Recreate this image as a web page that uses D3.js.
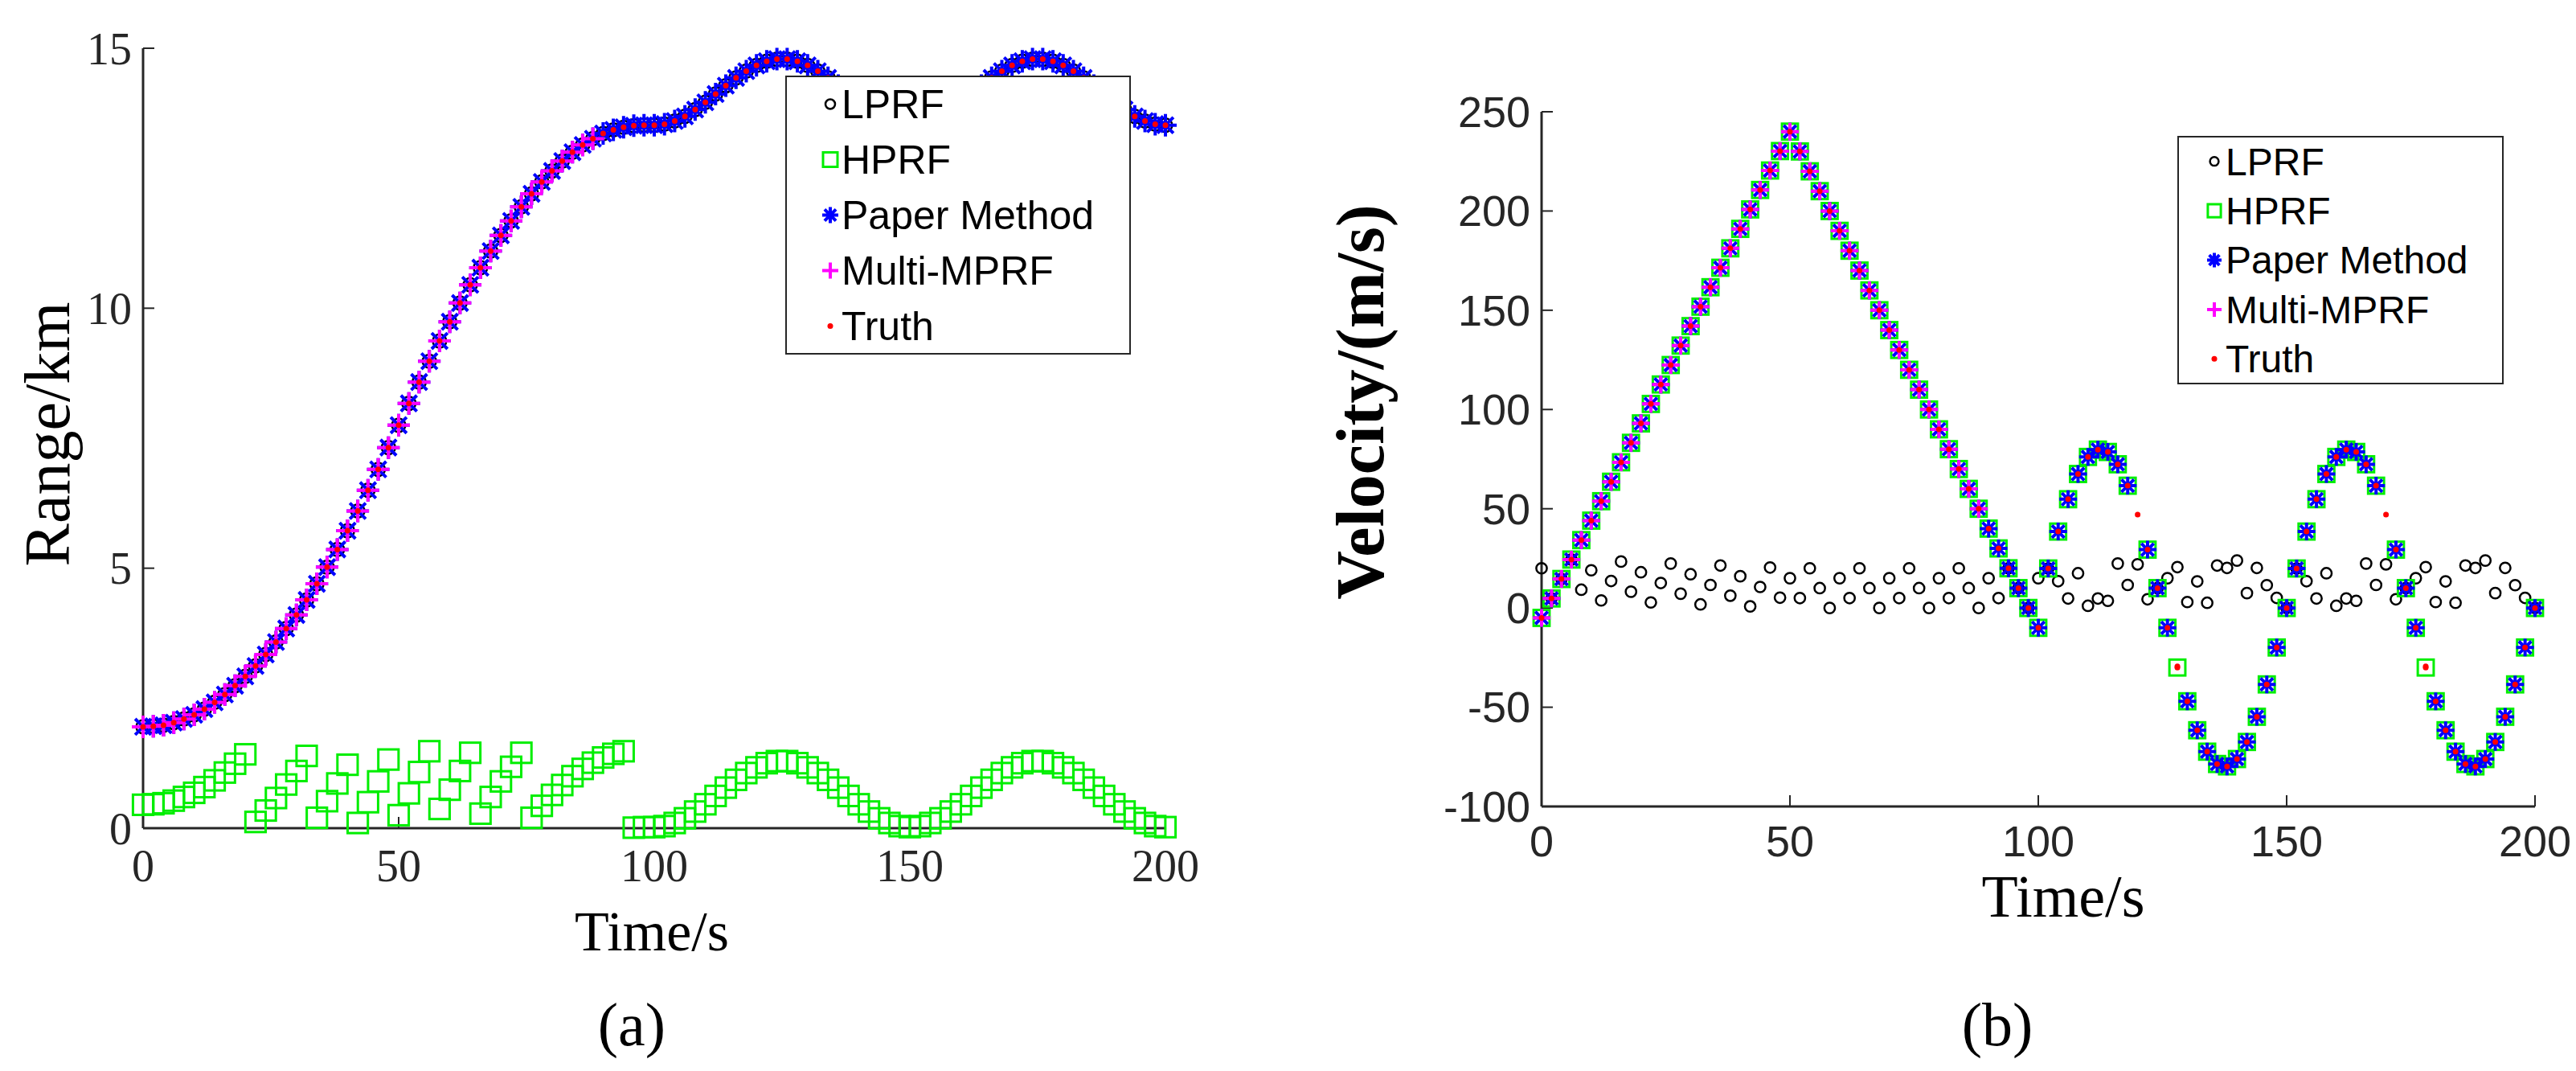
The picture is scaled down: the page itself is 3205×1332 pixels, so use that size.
<!DOCTYPE html>
<html>
<head>
<meta charset="utf-8">
<script src="https://cdn.jsdelivr.net/npm/d3@7/dist/d3.min.js"></script>
<style>
  body { margin: 0; background: #fff; }
  svg { display: block; }
</style>
</head>
<body>
<svg id="chart" width="3205" height="1332"></svg>
<script>
// time samples every 2 s
const times = d3.range(0, 201, 2);

// (a) range, km
const rangeTruth = [1.95, 1.96, 1.98, 2.03, 2.1, 2.18, 2.29, 2.42, 2.57, 2.74, 2.92, 3.12, 3.34, 3.58, 3.84, 4.1, 4.39, 4.7, 5.02, 5.36, 5.72, 6.1, 6.5, 6.9, 7.32, 7.75,
  8.17, 8.58, 8.98, 9.37, 9.74, 10.1, 10.45, 10.78, 11.1, 11.4, 11.68, 11.95, 12.2, 12.43, 12.64, 12.83, 13.0, 13.14, 13.26, 13.36, 13.43, 13.48, 13.51, 13.52, 13.52,
  13.54, 13.6, 13.69, 13.82, 13.96, 14.12, 14.28, 14.43, 14.56, 14.67, 14.75, 14.79, 14.79, 14.75, 14.67, 14.56, 14.43, 14.28, 14.12, 13.96, 13.82, 13.69, 13.6, 13.54, 13.52,
  13.54, 13.6, 13.69, 13.82, 13.96, 14.12, 14.28, 14.43, 14.56, 14.67, 14.75, 14.79, 14.79, 14.75, 14.67, 14.56, 14.43, 14.28, 14.12, 13.96, 13.82, 13.69, 13.6, 13.54, 13.52];
const rangeHprf = [0.45, 0.46, 0.48, 0.53, 0.6, 0.68, 0.79, 0.92, 1.07, 1.24, 1.42, 0.12, 0.34, 0.58, 0.84, 1.1, 1.39, 0.2, 0.52, 0.86, 1.22, 0.1, 0.5, 0.9, 1.32, 0.25,
  0.67, 1.08, 1.48, 0.37, 0.74, 1.1, 1.45, 0.28, 0.6, 0.9, 1.18, 1.45, 0.2, 0.43, 0.64, 0.83, 1.0, 1.14, 1.26, 1.36, 1.43, 1.48, 0.01, 0.02, 0.02,
  0.04, 0.1, 0.19, 0.32, 0.46, 0.62, 0.78, 0.93, 1.06, 1.17, 1.25, 1.29, 1.29, 1.25, 1.17, 1.06, 0.93, 0.78, 0.62, 0.46, 0.32, 0.19, 0.1, 0.04, 0.02,
  0.04, 0.1, 0.19, 0.32, 0.46, 0.62, 0.78, 0.93, 1.06, 1.17, 1.25, 1.29, 1.29, 1.25, 1.17, 1.06, 0.93, 0.78, 0.62, 0.46, 0.32, 0.19, 0.1, 0.04, 0.02];
const rangeMultiEnd = 88;   // Multi-MPRF plotted up to this time

// (b) velocity, m/s
const velTruth = [-5, 4.8, 14.6, 24.4, 34.2, 44, 53.8, 63.6, 73.4, 83.2, 93, 102.8, 112.6, 122.4, 132.2, 142, 151.8, 161.6, 171.4, 181.2, 191, 200.8, 210.6, 220.4, 230.2, 240,
  230, 220, 210, 200, 190, 180, 170, 160, 150, 140, 130, 120, 110, 100, 90, 80, 70, 60, 50, 40, 30, 20, 10, 0, -10,
  19.9, 38.5, 54.8, 67.5, 76.1, 79.8, 78.6, 72.4, 61.6, 47.0, 29.4, 10.0, -10.0, -29.4, -47.0, -61.6, -72.4, -78.6, -79.8, -76.1, -67.5, -54.8, -38.5, -19.9, 0,
  19.9, 38.5, 54.8, 67.5, 76.1, 79.8, 78.6, 72.4, 61.6, 47.0, 29.4, 10.0, -10.0, -29.4, -47.0, -61.6, -72.4, -78.6, -79.8, -76.1, -67.5, -54.8, -38.5, -19.9, 0];
const velLprf = [20, 4.8, 14.6, 24.4, 9.2, 19, 3.8, 13.6, 23.4, 8.2, 18, 2.8, 12.6, 22.4, 7.2, 17, 1.8, 11.6, 21.4, 6.2, 16, 0.8, 10.6, 20.4, 5.2, 15,
  5, 20, 10, 0, 15, 5, 20, 10, 0, 15, 5, 20, 10, 0, 15, 5, 20, 10, 0, 15, 5, 20, 10, 0, 15,
  19.9, 13.5, 4.8, 17.5, 1.1, 4.8, 3.6, 22.4, 11.6, 22, 4.4, 10, 15, 20.6, 3, 13.4, 2.6, 21.4, 20.2, 23.9, 7.5, 20.2, 11.5, 5.1, 0,
  19.9, 13.5, 4.8, 17.5, 1.1, 4.8, 3.6, 22.4, 11.6, 22, 4.4, 10, 15, 20.6, 3, 13.4, 2.6, 21.4, 20.2, 23.9, 7.5, 20.2, 11.5, 5.1, 0];
const velGapTimes = [120, 170];          // only truth shown
const velHprfOutliers = [[128, -30], [178, -30]];
const velMultiEnd = 88;

const xTicks = [0, 50, 100, 150, 200];
const rangeTicks = [0, 5, 10, 15];
const velTicks = [-100, -50, 0, 50, 100, 150, 200, 250];
const legendNames = ["LPRF", "HPRF", "Paper Method", "Multi-MPRF", "Truth"];

const svg = d3.select("#chart");
const axisColor = "#262626";

function starPath(s) {
  const a = s / 2, b = a * 0.707;
  return `M${-a},0L${a},0M0,${-a}L0,${a}M${-b},${-b}L${b},${b}M${-b},${b}L${b},${-b}`;
}
function plusPath(s) {
  const a = s / 2;
  return `M${-a},0L${a},0M0,${-a}L0,${a}`;
}

function drawMarker(g, kind, x, y, size) {
  switch (kind) {
    case "LPRF":
      g.append("circle").attr("cx", x).attr("cy", y).attr("r", size * 0.3)
        .attr("fill", "none").attr("stroke", "#000").attr("stroke-width", 2.5);
      break;
    case "HPRF":
      g.append("rect").attr("x", x - size * 0.45).attr("y", y - size * 0.45)
        .attr("width", size * 0.9).attr("height", size * 0.9)
        .attr("fill", "none").attr("stroke", "#00ee00").attr("stroke-width", 3);
      break;
    case "Paper Method":
      g.append("path").attr("transform", `translate(${x},${y})`).attr("d", starPath(size))
        .attr("stroke", "#0000ff").attr("stroke-width", 4).attr("fill", "none");
      break;
    case "Multi-MPRF":
      g.append("path").attr("transform", `translate(${x},${y})`).attr("d", plusPath(size))
        .attr("stroke", "#ff00ff").attr("stroke-width", 4).attr("fill", "none");
      break;
    case "Truth":
      g.append("circle").attr("cx", x).attr("cy", y).attr("r", 3.5).attr("fill", "#ff0000");
      break;
  }
}

function drawLegend(box, size) {
  const g = svg.append("g");
  g.append("rect").attr("x", box.x0).attr("y", box.y0)
    .attr("width", box.x1 - box.x0).attr("height", box.y1 - box.y0)
    .attr("fill", "#fff").attr("stroke", axisColor).attr("stroke-width", 2);
  const step = (box.y1 - box.y0) / 5;
  legendNames.forEach((name, i) => {
    const cy = box.y0 + step * (i + 0.5);
    drawMarker(g, name, box.x0 + box.mx, cy, size);
    g.append("text").attr("x", box.x0 + box.mx + 14).attr("y", cy)
      .attr("dy", "0.35em").attr("font-family", "Liberation Sans, Arial, sans-serif")
      .attr("font-size", box.fs).attr("fill", "#000").text(name);
  });
}

function drawAxes(x, y, yTicks, opt) {
  const g = svg.append("g").attr("font-family", opt.tickFont).attr("font-size", opt.tickSize).attr("fill", axisColor);
  const [x0, x1] = x.range(), [y0, y1] = y.range();
  g.append("line").attr("x1", x0).attr("x2", x1).attr("y1", y0).attr("y2", y0).attr("stroke", axisColor).attr("stroke-width", 3);
  g.append("line").attr("x1", x0).attr("x2", x0).attr("y1", y0).attr("y2", y1).attr("stroke", axisColor).attr("stroke-width", 3);
  xTicks.forEach(t => {
    g.append("line").attr("x1", x(t)).attr("x2", x(t)).attr("y1", y0).attr("y2", y0 - 14).attr("stroke", axisColor).attr("stroke-width", 2);
    g.append("text").attr("x", x(t)).attr("y", y0 + opt.xLabelDy).attr("text-anchor", "middle").text(t);
  });
  yTicks.forEach(t => {
    g.append("line").attr("x1", x0).attr("x2", x0 + 14).attr("y1", y(t)).attr("y2", y(t)).attr("stroke", axisColor).attr("stroke-width", 2);
    g.append("text").attr("x", x0 - 14).attr("y", y(t)).attr("dy", "0.35em").attr("text-anchor", "end").text(t);
  });
}

function textAt(x, y, str, font, size, weight, rotate) {
  const t = svg.append("text").attr("font-family", font).attr("font-size", size)
    .attr("font-weight", weight).attr("text-anchor", "middle").attr("fill", "#000");
  if (rotate) t.attr("transform", `translate(${x},${y}) rotate(-90)`);
  else t.attr("x", x).attr("y", y);
  return t.text(str);
}

const serif = "Liberation Serif, Times New Roman, serif";

// ---- (a) range
const xa = d3.scaleLinear().domain([0, 200]).range([178, 1450]);
const ya = d3.scaleLinear().domain([0, 15]).range([1030, 60]);
drawAxes(xa, ya, rangeTicks, { tickFont: serif, tickSize: 56, xLabelDy: 66 });
{
  const g = svg.append("g");
  const sz = 28;
  times.forEach((t, i) => drawMarker(g, "LPRF", xa(t), ya(rangeTruth[i]), sz));
  times.forEach((t, i) => drawMarker(g, "HPRF", xa(t), ya(rangeHprf[i]), sz));
  times.forEach((t, i) => drawMarker(g, "Paper Method", xa(t), ya(rangeTruth[i]), sz));
  times.forEach((t, i) => { if (t <= rangeMultiEnd) drawMarker(g, "Multi-MPRF", xa(t), ya(rangeTruth[i]), sz); });
  times.forEach((t, i) => drawMarker(g, "Truth", xa(t), ya(rangeTruth[i]), sz));
}
drawLegend({ x0: 978, x1: 1406, y0: 95, y1: 440, mx: 55, fs: 50 }, 20);
textAt(811, 1182, "Time/s", serif, 70, "normal");
textAt(58, 540, "Range/km", serif, 80, "normal", true).attr("dy", "0.35em");
textAt(786, 1300, "(a)", serif, 76, "normal");

// ---- (b) velocity
const xb = d3.scaleLinear().domain([0, 200]).range([1918, 3154]);
const yb = d3.scaleLinear().domain([-100, 250]).range([1003, 139]);
drawAxes(xb, yb, velTicks, { tickFont: "Liberation Sans, Arial, sans-serif", tickSize: 54, xLabelDy: 62 });
{
  const g = svg.append("g");
  const sz = 22;
  const gap = t => velGapTimes.includes(t);
  times.forEach((t, i) => drawMarker(g, "LPRF", xb(t), yb(velLprf[i]), sz));
  times.forEach((t, i) => {
    const out = velHprfOutliers.find(o => o[0] === t);
    if (out) drawMarker(g, "HPRF", xb(t), yb(out[1]), sz);
    else if (!gap(t)) drawMarker(g, "HPRF", xb(t), yb(velTruth[i]), sz);
  });
  times.forEach((t, i) => {
    if (!gap(t) && !velHprfOutliers.some(o => o[0] === t)) drawMarker(g, "Paper Method", xb(t), yb(velTruth[i]), sz);
  });
  times.forEach((t, i) => { if (t <= velMultiEnd) drawMarker(g, "Multi-MPRF", xb(t), yb(velTruth[i]), sz); });
  times.forEach((t, i) => drawMarker(g, "Truth", xb(t), yb(velTruth[i]), sz));
  velHprfOutliers.forEach(o => drawMarker(g, "Truth", xb(o[0]), yb(o[1]), sz));
}
drawLegend({ x0: 2710, x1: 3114, y0: 170, y1: 477, mx: 45, fs: 48 }, 18);
textAt(2567, 1140, "Time/s", serif, 74, "normal");
textAt(1692, 500, "Velocity/(m/s)", serif, 84, "bold", true).attr("dy", "0.35em");
textAt(2485, 1300, "(b)", serif, 76, "normal");
</script>
</body>
</html>
